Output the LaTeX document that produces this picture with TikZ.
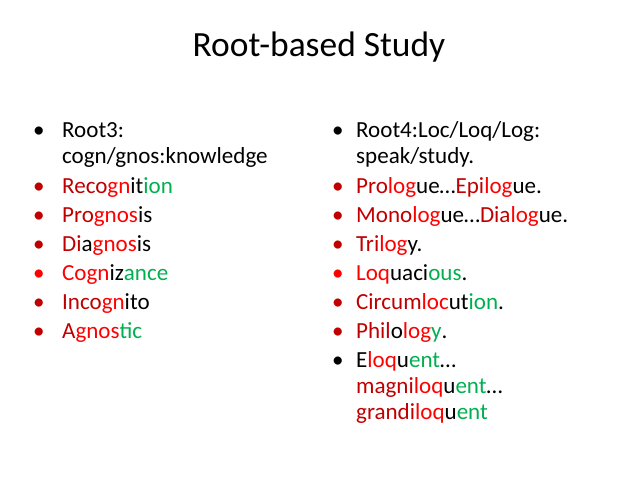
\documentclass[tikz,border=0pt]{standalone}
\usepackage{fontspec}
\setmainfont{Carlito}
\definecolor{dr}{HTML}{C00000}
\definecolor{br}{HTML}{FF0000}
\definecolor{gr}{HTML}{00B050}
\newcommand{\D}[1]{\textcolor{dr}{#1}}
\newcommand{\R}[1]{\textcolor{br}{#1}}
\newcommand{\G}[1]{\textcolor{gr}{#1}}
\tikzset{txt/.style={anchor=base west,inner sep=0pt,font=\fontsize{26pt}{30pt}\selectfont},
 bul/.style={anchor=base west,inner sep=0pt,font=\fontsize{26pt}{30pt}\selectfont}}
\begin{document}
\begin{tikzpicture}[x=1.1285pt,y=-1.1285pt]
\useasboundingbox[fill=white] (0,0) rectangle (638,479);
\node[anchor=base,inner sep=0pt,font=\fontsize{40pt}{46pt}\selectfont] (title) at (319,56) {Root-based Study};
% left
\node[bul] (lb1) at (33,137) {•};
\node[txt] (l1) at (62,137) {Root3:};
\node[txt] (l1b) at (62,163) {cogn/gnos:knowledge};
\node[bul,text=dr] (lb2) at (33,193) {•};
\node[txt] (l2) at (62,193) {\D{Reco}\R{gn}it\G{ion}};
\node[bul,text=dr] (lb3) at (33,222) {•};
\node[txt] (l3) at (62,222) {\D{Pro}\R{gnos}is};
\node[bul,text=dr] (lb4) at (33,251) {•};
\node[txt] (l4) at (62,251) {\D{Di}a\R{gnos}is};
\node[bul,text=br] (lb5) at (33,280) {•};
\node[txt] (l5) at (62,280) {\R{Cogn}iz\G{ance}};
\node[bul,text=dr] (lb6) at (33,309) {•};
\node[txt] (l6) at (62,309) {\D{Inco}\R{gn}ito};
\node[bul,text=dr] (lb7) at (33,338) {•};
\node[txt] (l7) at (62,338) {\D{A}\R{gnos}\G{tic}};
% right
\node[bul] (rb1) at (332,137) {•};
\node[txt] (r1) at (356,137) {Root4:Loc/Loq/Log:};
\node[txt] (r1b) at (356,163) {speak/study.};
\node[bul,text=dr] (rb2) at (332,193) {•};
\node[txt] (r2) at (356,193) {\D{Pro}\R{log}ue…\D{Epi}\R{log}ue.};
\node[bul,text=dr] (rb3) at (332,222) {•};
\node[txt] (r3) at (356,222) {\D{Mono}\R{log}ue…\D{Dia}\R{log}ue.};
\node[bul,text=dr] (rb4) at (332,251) {•};
\node[txt] (r4) at (356,251) {\D{Tri}\R{log}y.};
\node[bul,text=br] (rb5) at (332,280) {•};
\node[txt] (r5) at (356,280) {\R{Loq}uaci\G{ous}.};
\node[bul,text=dr] (rb6) at (332,309) {•};
\node[txt] (r6) at (356,309) {\D{Circum}\R{loc}ut\G{ion}.};
\node[bul,text=dr] (rb7) at (332,338) {•};
\node[txt] (r7) at (356,338) {\D{Phil}o\R{log}\G{y}.};
\node[bul] (rb8) at (332,367) {•};
\node[txt] (r8) at (356,367) {E\R{loq}u\G{ent}…};
\node[txt] (r8b) at (356,393) {\D{magni}\R{loq}u\G{ent}…};
\node[txt] (r8c) at (356,419) {\D{grandi}\R{loq}u\G{ent}};
\end{tikzpicture}
\end{document}
